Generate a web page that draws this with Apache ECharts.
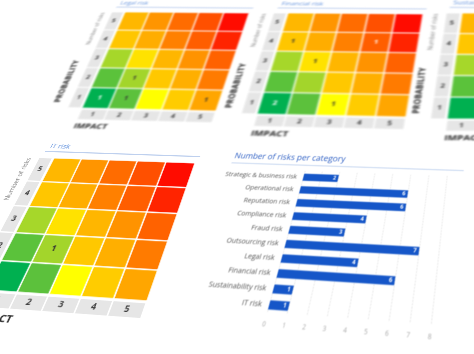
<!DOCTYPE html>
<html>
<head>
<meta charset="utf-8">
<script src="https://cdn.jsdelivr.net/npm/echarts@6/dist/echarts.min.js"></script>
<style>
  html, body { margin: 0; padding: 0; background: #fff; width: 474px; height: 354px; overflow: hidden; }
  .panel { position: absolute; left: 0; top: 0; transform-origin: 0 0; }
</style>
</head>
<body>
<div id="legal" class="panel" style="width:320px;height:300px"></div>
<div id="financial" class="panel" style="width:320px;height:300px"></div>
<div id="sustainability" class="panel" style="width:320px;height:300px"></div>
<div id="it" class="panel" style="width:320px;height:300px"></div>
<div id="bars" class="panel" style="width:560px;height:420px"></div>
<script>
const impactLabels = ["1", "2", "3", "4", "5"];
const probabilityLabels = ["1", "2", "3", "4", "5"];

// [impact index, probability index, number of risks]
const legalRisks = [[0, 0, 1], [1, 0, 1], [1, 1, 1], [4, 0, 1]];
const financialRisks = [[0, 0, 2], [2, 0, 1], [1, 2, 1], [0, 3, 1], [3, 3, 1]];
const sustainabilityRisks = [[3, 2, 1]];
const itRisks = [[1, 1, 1]];

const categories = [
  "Strategic & business risk", "Operational risk", "Reputation risk",
  "Compliance risk", "Fraud risk", "Outsourcing risk", "Legal risk",
  "Financial risk", "Sustainability risk", "IT risk",
];
const riskCounts = [2, 6, 6, 4, 3, 7, 4, 6, 1, 1];
const countTicks = [0, 1, 2, 3, 4, 5, 6, 7, 8];

// cell colours, probability 1 (bottom) to 5 (top), impact 1..5
const matrixColors = [
  ["#00B050", "#5CC13C", "#FFFF00", "#FFCC00", "#FFA600"],
  ["#5BC23B", "#A3D52B", "#FFC800", "#FFAF00", "#FF7B00"],
  ["#A6D72A", "#FFE200", "#FFB600", "#FF9300", "#FF6200"],
  ["#FFC600", "#FFAD00", "#FF8000", "#FF5E00", "#FF2400"],
  ["#FFB700", "#FF9500", "#FF6C00", "#FF5000", "#FF0C00"],
];

const FONT = "'Open Sans', 'DejaVu Sans', sans-serif";

// solve for the projective transform that maps 4 flat points onto the photo
function solve(A, b) {
  const n = b.length;
  for (let i = 0; i < n; i++) {
    let m = i;
    for (let r = i + 1; r < n; r++) if (Math.abs(A[r][i]) > Math.abs(A[m][i])) m = r;
    [A[i], A[m]] = [A[m], A[i]];
    [b[i], b[m]] = [b[m], b[i]];
    for (let r = i + 1; r < n; r++) {
      const f = A[r][i] / A[i][i];
      for (let c = i; c < n; c++) A[r][c] -= f * A[i][c];
      b[r] -= f * b[i];
    }
  }
  const x = new Array(n).fill(0);
  for (let i = n - 1; i >= 0; i--) {
    let s = b[i];
    for (let c = i + 1; c < n; c++) s -= A[i][c] * x[c];
    x[i] = s / A[i][i];
  }
  return x;
}

function warp(el, src, dst) {
  const A = [], b = [];
  for (let i = 0; i < 4; i++) {
    const [x, y] = src[i], [u, v] = dst[i];
    A.push([x, y, 1, 0, 0, 0, -u * x, -u * y]); b.push(u);
    A.push([0, 0, 0, x, y, 1, -v * x, -v * y]); b.push(v);
  }
  const h = solve(A, b);
  el.style.transform =
    `matrix3d(${h[0]},${h[3]},0,${h[6]},${h[1]},${h[4]},0,${h[7]},0,0,1,0,${h[2]},${h[5]},0,1)`;
}

function bandLabel(w, h) {
  return {
    margin: 3,
    formatter: (v) => `{b|${v}}`,
    rich: {
      b: {
        width: w, height: h, lineHeight: h, align: "center",
        backgroundColor: "#e6e6e6", color: "#404040",
        fontWeight: "bold", fontSize: 10.5, fontFamily: FONT,
      },
    },
  };
}

function matrixOption(title, risks) {
  const counts = {};
  risks.forEach(([i, p, n]) => (counts[i + "-" + p] = n));
  const cells = [];
  for (let p = 0; p < 5; p++) {
    for (let i = 0; i < 5; i++) {
      const n = counts[i + "-" + p] || 0;
      const light = (i + 1) * (p + 1) >= 16 || (i === 0 && p === 0);
      cells.push({
        value: [i, p, n],
        itemStyle: { color: matrixColors[p][i] },
        label: { color: light ? "#ffffff" : "#333333" },
      });
    }
  }
  return {
    animation: false,
    grid: { left: 80, top: 40, width: 200, height: 200 },
    xAxis: {
      type: "category", data: impactLabels,
      axisLine: { show: false }, axisTick: { show: false }, splitLine: { show: false },
      axisLabel: bandLabel(38, 18),
    },
    yAxis: {
      type: "category", data: probabilityLabels,
      axisLine: { show: false }, axisTick: { show: false }, splitLine: { show: false },
      axisLabel: bandLabel(18, 38),
    },
    graphic: [
      { type: "text", x: 66, y: 20, style: { text: title, font: `10.5px ${FONT}`, fill: "#5f8fdc", textVerticalAlign: "middle" } },
      { type: "line", shape: { x1: 62, y1: 29, x2: 284, y2: 29 }, style: { stroke: "#a9c0e8", lineWidth: 1.5 } },
      { type: "text", x: 44, y: 77, rotation: Math.PI / 2, style: { text: "Number of risks", font: `9.5px ${FONT}`, fill: "#7f7f7f", textAlign: "center", textVerticalAlign: "middle" } },
      { type: "text", x: 38, y: 188, rotation: Math.PI / 2, style: { text: "PROBABILITY", font: `bold 13px ${FONT}`, fill: "#262626", textAlign: "center", textVerticalAlign: "middle" } },
      { type: "text", x: 80, y: 274, style: { text: "IMPACT", font: `bold 13px ${FONT}`, fill: "#262626", textVerticalAlign: "middle" } },
    ],
    series: [{
      type: "heatmap",
      data: cells,
      itemStyle: { borderColor: "#ffffff", borderWidth: 2 },
      label: {
        show: true, fontSize: 11, fontWeight: "bold", fontFamily: FONT,
        formatter: (p) => (p.value[2] ? p.value[2] : ""),
      },
      emphasis: { disabled: true },
    }],
  };
}

const gridCorners = [[80, 40], [280, 40], [280, 240], [80, 240]];
const panels = [
  { id: "legal", title: "Legal risk", risks: legalRisks, blur: 1.7,
    dst: [[125, 12], [249, 13], [216, 111], [82, 108]] },
  { id: "financial", title: "Financial risk", risks: financialRisks, blur: 1.4,
    dst: [[288, 13], [423, 14], [406, 117], [257, 114]] },
  { id: "sustainability", title: "Sustainability risk", risks: sustainabilityRisks, blur: 1.7,
    dst: [[462, 13], [606, 14], [598, 119], [447, 119]] },
  { id: "it", title: "IT risk", risks: itRisks, blur: 0.7,
    dst: [[54, 158], [195, 163], [147, 301], [-14, 290]] },
];

panels.forEach((p) => {
  const el = document.getElementById(p.id);
  el.style.filter = `blur(${p.blur}px)`;
  echarts.init(el).setOption(matrixOption(p.title, p.risks));
  warp(el, gridCorners, p.dst);
});

// bar chart
const barEl = document.getElementById("bars");
barEl.style.filter = "blur(0.8px)";
echarts.init(barEl).setOption({
  animation: false,
  grid: { left: 190, top: 60, width: 320, height: 300 },
  graphic: [
    { type: "text", x: 12, y: 28, style: { text: "Number of risks per category", font: `19.5px ${FONT}`, fill: "#2f60c4", textVerticalAlign: "middle" } },
    { type: "line", shape: { x1: 10, y1: 46, x2: 545, y2: 46 }, style: { stroke: "#a9c0e8", lineWidth: 1.5 } },
  ],
  xAxis: {
    type: "value",
    min: countTicks[0],
    max: countTicks[countTicks.length - 1],
    interval: 1,
    axisLine: { show: false },
    axisTick: { show: false },
    axisLabel: { color: "#a6a6a6", fontSize: 12, margin: 15, fontFamily: FONT },
    splitLine: { lineStyle: { color: "#d9d9d9", type: "dashed" } },
  },
  yAxis: {
    type: "category",
    data: categories,
    inverse: true,
    axisLine: { show: false },
    axisTick: { show: false },
    axisLabel: { color: "#555555", fontSize: 15, margin: 15, fontFamily: FONT },
  },
  series: [{
    type: "bar",
    data: riskCounts,
    barWidth: 17,
    itemStyle: { color: "#1556c8" },
    label: {
      show: true, position: "insideRight", color: "#ffffff",
      fontWeight: "bold", fontSize: 12, fontFamily: FONT,
    },
  }],
});
warp(barEl, [[190, 60], [510, 60], [510, 360], [190, 360]],
  [[305, 171], [447, 176], [431, 325], [267, 313]]);
</script>
</body>
</html>
